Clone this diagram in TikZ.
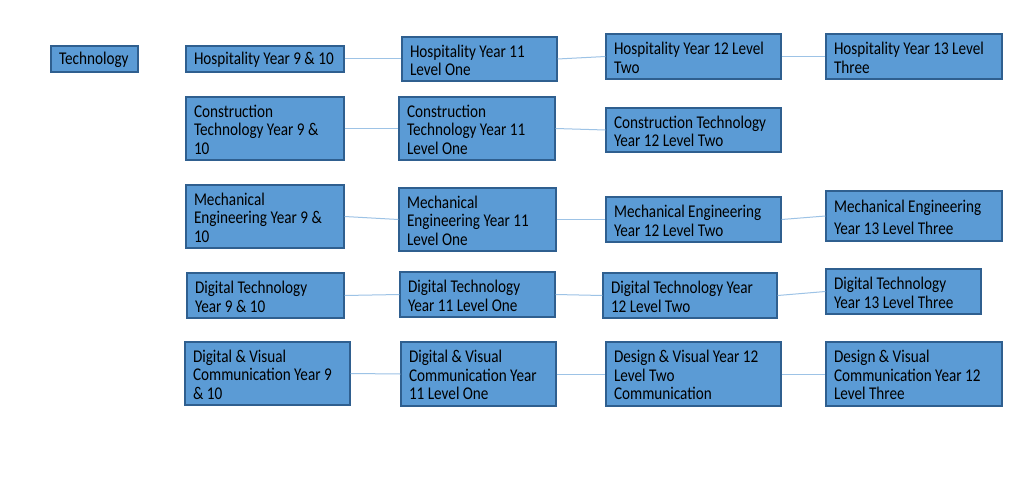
\documentclass[tikz,border=0pt]{standalone}
\usepackage{graphicx}
\usepackage{fontspec}
\setmainfont{Carlito}
\definecolor{boxfill}{HTML}{5B9BD5}
\definecolor{boxline}{HTML}{2F5F8F}
\definecolor{linkcol}{HTML}{9DC3E6}
\newcommand\mybox[6]{%
  \pgfmathsetmacro\bw{#4-#2}\pgfmathsetmacro\bh{#5-#3}\pgfmathsetmacro\tw{#4-#2-16}%
  \node[box,minimum width=\bw pt,minimum height=\bh pt] (#1) at ({(#2+#4)/2},{(#3+#5)/2}) {};
  \node[boxtext] (#1-t) at ([yshift=-1.2pt]#1.center)
    {\scalebox{1}[1.18]{\parbox[c]{\tw pt}{\raggedright\fontsize{15.2}{15.7}\selectfont #6}}};}
\begin{document}
\begin{tikzpicture}[x=1pt,y=-1pt,
  box/.style={rectangle,draw=boxline,line width=1.2pt,fill=boxfill,inner sep=0pt},
  boxtext/.style={inner sep=0pt,text=black},
  link/.style={draw=linkcol,line width=1pt}]
\useasboundingbox (0,0) rectangle (1024,476);
\fill[white] (0,0) rectangle (1024,476);
% row 1
\mybox{tech}{51}{46}{138}{72}{Technology}
\mybox{h9}{186}{46}{344}{72}{Hospitality Year 9 \& 10}
\mybox{h11}{402}{37}{557}{81}{Hospitality Year 11\\Level One}
\mybox{h12}{606}{34}{781}{79}{Hospitality Year 12 Level\\Two}
\mybox{h13}{826}{34}{1002}{79}{Hospitality Year 13 Level\\Three}
% row 2
\mybox{c9}{186}{97}{344}{160}{Construction\\Technology Year 9 \&\\10}
\mybox{c11}{399}{97}{555}{160}{Construction\\Technology Year 11\\Level One}
\mybox{c12}{606}{108}{781}{152}{Construction Technology\\Year 12 Level Two}
% row 3
\mybox{m9}{186}{185}{344}{248}{Mechanical\\Engineering Year 9 \&\\10}
\mybox{m11}{399}{188}{556}{251}{Mechanical\\Engineering Year 11\\Level One}
\mybox{m12}{606}{197}{781}{242}{Mechanical Engineering\\Year 12 Level Two}
\mybox{m13}{826}{191}{1002}{241}{Mechanical Engineering\\[3pt]Year 13 Level Three}
% row 4
\mybox{d9}{187}{273}{344}{318}{Digital Technology\\Year 9 \& 10}
\mybox{d11}{400}{272}{555}{317}{Digital Technology\\Year 11 Level One}
\mybox{d12}{603}{273}{777}{318}{Digital Technology Year\\12 Level Two}
\mybox{d13}{826}{269}{981}{314}{Digital Technology\\Year 13 Level Three}
% row 5
\mybox{v9}{185}{342}{350}{405}{Digital \& Visual\\Communication Year 9\\\& 10}
\mybox{v11}{401}{342}{556}{406}{Digital \& Visual\\Communication Year\\11 Level One}
\mybox{v12}{606}{342}{781}{406}{Design \& Visual Year 12\\Level Two\\Communication}
\mybox{v13}{826}{342}{1002}{406}{Design \& Visual\\Communication Year 12\\Level Three}
% connectors
\draw[link] (h9.east) -- (h11.west);
\draw[link] (h11.east) -- (h12.west);
\draw[link] (h12.east) -- (h13.west);
\draw[link] (c9.east) -- (c11.west);
\draw[link] (c11.east) -- (c12.west);
\draw[link] (m9.east) -- (m11.west);
\draw[link] (m11.east) -- (m12.west);
\draw[link] (m12.east) -- (m13.west);
\draw[link] (d9.east) -- (d11.west);
\draw[link] (d11.east) -- (d12.west);
\draw[link] (d12.east) -- (d13.west);
\draw[link] (v9.east) -- (v11.west);
\draw[link] (v11.east) -- (v12.west);
\draw[link] (v12.east) -- (v13.west);
\end{tikzpicture}
\end{document}
